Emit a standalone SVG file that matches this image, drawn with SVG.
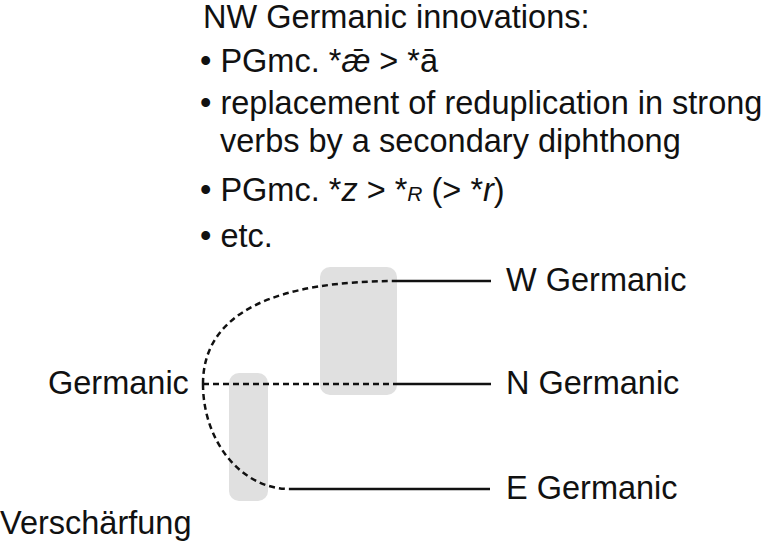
<svg xmlns="http://www.w3.org/2000/svg" width="776" height="542" viewBox="0 0 776 542">
<style>
text{font-family:"Liberation Sans",Arial,sans-serif;font-size:32.5px;fill:#111}
.solid{stroke:#111;stroke-width:2.5;fill:none}
.dash{stroke:#111;stroke-width:2.5;fill:none;stroke-dasharray:6,4}
.box{fill:#e0e0e0}
</style>
<rect width="776" height="542" fill="#fff"/>
<g id="innovations-box"><rect class="box" x="320" y="267" width="77" height="128" rx="10"/></g>
<g id="verschaerfung-box"><rect class="box" x="229" y="373" width="39" height="128" rx="10"/></g>
<g id="connectors">
<path class="dash" d="M203,384 C203,310 280,281 397,281"/>
<path class="dash" d="M203,384 L397,384"/>
<path class="dash" d="M203,384 C203,440 240,489 290,489"/>
<path class="solid" d="M397,281 L491,281"/>
<path class="solid" d="M397,384 L491,384"/>
<path class="solid" d="M290,489 L490,489"/>
</g>
<g id="notes">
<text x="203" y="28">NW Germanic innovations:</text>
<text x="200" y="72">• PGmc. *<tspan font-style="italic">ǣ</tspan> &gt; *ā</text>
<text x="200" y="114">• replacement of reduplication in strong</text>
<text x="220" y="152">verbs by a secondary diphthong</text>
<text x="200" y="201">• PGmc. *<tspan font-style="italic">z</tspan> &gt; *<tspan font-style="italic" font-size="21">R</tspan> (&gt; *<tspan font-style="italic">r</tspan>)</text>
<text x="200" y="247">• etc.</text>
</g>
<g id="germanic"><text x="48" y="394">Germanic</text></g>
<g id="w-germanic"><text x="506" y="291">W Germanic</text></g>
<g id="n-germanic"><text x="506" y="394">N Germanic</text></g>
<g id="e-germanic"><text x="506" y="499">E Germanic</text></g>
<g id="verschaerfung"><text x="0" y="534">Verschärfung</text></g>
</svg>
